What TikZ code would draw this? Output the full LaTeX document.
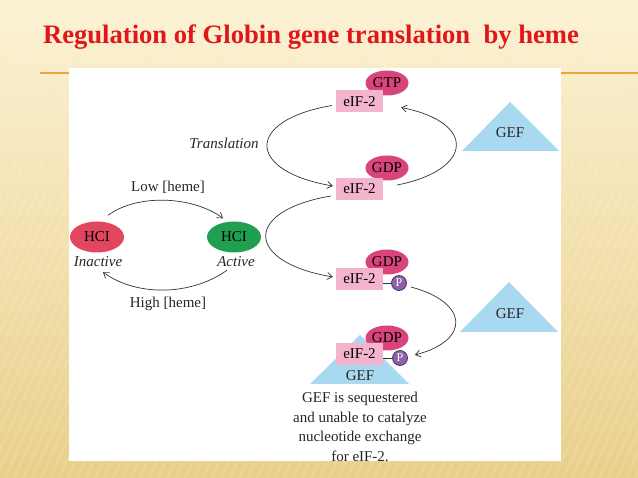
\documentclass[tikz,border=0pt]{standalone}
\usepackage{fontspec}
\setmainfont{Liberation Serif}
\usetikzlibrary{positioning,shapes.geometric,arrows.meta,backgrounds}
\definecolor{slidetop}{HTML}{FCF2D3}
\definecolor{slidebot}{HTML}{E9CF8A}
\definecolor{sliderule}{HTML}{EBA63A}
\definecolor{titlered}{HTML}{E0161B}
\definecolor{hcired}{HTML}{E2465E}
\definecolor{hcigreen}{HTML}{1F9F4F}
\definecolor{nuclpink}{HTML}{D8447B}
\definecolor{eifpink}{HTML}{F4B4CD}
\definecolor{phospurple}{HTML}{8C62A8}
\definecolor{phosedge}{HTML}{4E3070}
\definecolor{gefblue}{HTML}{A9D8F1}

\begin{document}
\begin{tikzpicture}[x=1pt, y=-1pt,
  lbl/.style={inner sep=0pt, font=\fontsize{15}{19.5}\selectfont, text=black!85},
  hcioval/.style={ellipse, minimum width=54pt, minimum height=31pt, inner sep=0pt,
    font=\fontsize{15}{17}\selectfont},
  nucl/.style={ellipse, fill=nuclpink, minimum width=43pt, minimum height=25pt, inner sep=0pt,
    font=\fontsize{15}{17}\selectfont},
  eifbox/.style={fill=eifpink, minimum width=47pt, minimum height=22pt, inner sep=0pt,
    font=\fontsize{15}{17}\selectfont},
  phos/.style={circle, fill=phospurple, draw=phosedge, line width=0.8pt, minimum size=15pt,
    inner sep=0pt, font=\fontsize{12}{13}\selectfont, text=white},
  flow/.style={-{Straight Barb[length=5pt,width=7pt]}, black!80, line width=0.7pt}]
  \useasboundingbox (0,0) rectangle (638,478);
  % slide
  \shade[top color=slidetop, bottom color=slidebot] (0,0) rectangle (638,478);
  \begin{scope}
    \clip (0,0) rectangle (638,478);
    \foreach \s in {0,9,...,900}
      \draw[white, opacity=0.11, line width=2.5pt] (\s,0) -- (\s-220,478);
  \end{scope}
  \draw[sliderule, line width=1.4pt] (40,73) -- (638,73);
  \fill[white] (69,68) rectangle (561,461);
  \node[font=\fontsize{26.6}{30}\selectfont\bfseries, text=titlered] (title) at (311,37)
    {Regulation of Globin gene translation\ \ by heme};
  % HCI switch
  \node[hcioval, fill=hcired] (hciI) at (97,237) {HCI};
  \node[hcioval, fill=hcigreen] (hciA) at (234,237) {HCI};
  \node[lbl, font=\fontsize{15}{17}\selectfont\itshape] (inact) at (98,262) {Inactive};
  \node[lbl, font=\fontsize{15}{17}\selectfont\itshape] (act) at (236,262) {Active};
  \node[lbl] (low) at (168,187) {Low [heme]};
  \node[lbl] (high) at (168,304) {High [heme]};
  \draw[flow] ([shift={(11,-6)}]hciI.north) .. controls +(30,-22) and +(-30,-22) .. ([shift={(-11,-3)}]hciA.north);
  \draw[flow] ([shift={(-9,3)}]act.south) .. controls +(-35,25) and +(35,25) .. ([shift={(5,5)}]inact.south);
  % eIF-2 cycle
  \node[nucl] (gtp) at (387,83) {GTP};
  \node[eifbox] (e1) at (359.5,101.5) {eIF-2};
  \node[nucl] (gdp1) at (387,168) {GDP};
  \node[eifbox] (e2) at (359.5,189) {eIF-2};
  \node[lbl, font=\fontsize{15}{17}\selectfont\itshape] (transl) at (224,143) {Translation};
  \fill[gefblue] (462,151) -- (510,102) -- (559,151) -- cycle;
  \node[lbl] (gef1) at (510,133) {GEF};
  \draw[flow] ([shift={(-4,4)}]e1.west) .. controls +(-87,15) and +(-87,-15) .. ([shift={(-3,-3)}]e2.west);
  \draw[flow] ([shift={(14,-4)}]e2.east) .. controls +(76,-15) and +(76,15) .. ([shift={(18,6)}]e1.east);
  % phosphorylated eIF-2
  \node[nucl] (gdp2) at (387,262) {GDP};
  \node[eifbox] (e3) at (359.5,279) {eIF-2};
  \node[phos] (p1) at (399,283) {P};
  \draw[black!80, line width=0.8pt] (p1.west -| e3.east) -- (p1.west);
  \draw[flow] ([shift={(-5,7)}]e2.west) .. controls +(-88,15) and +(-88,-15) .. ([shift={(-3,-2)}]e3.west);
  \fill[gefblue] (460,332) -- (509,282) -- (558,332) -- cycle;
  \node[lbl] (gef2) at (510,314) {GEF};
  % sequestered complex
  \fill[gefblue] (310,384) -- (360,335) -- (409,384) -- cycle;
  \node[nucl] (gdp3) at (387,338) {GDP};
  \node[eifbox] (e4) at (359.5,354) {eIF-2};
  \node[phos] (p2) at (400,358) {P};
  \draw[black!80, line width=0.8pt] (p2.west -| e4.east) -- (p2.west);
  \node[lbl] (gef3) at (360,376) {GEF};
  \draw[flow] ([shift={(4,4)}]p1.east) .. controls +(57,15) and +(57,-15) .. ([shift={(7,-3)}]p2.east);
  \node[lbl, align=center] (note) at (360,427)
    {GEF is sequestered\\and unable to catalyze\\nucleotide exchange\\for eIF-2.};
\end{tikzpicture}
\end{document}
